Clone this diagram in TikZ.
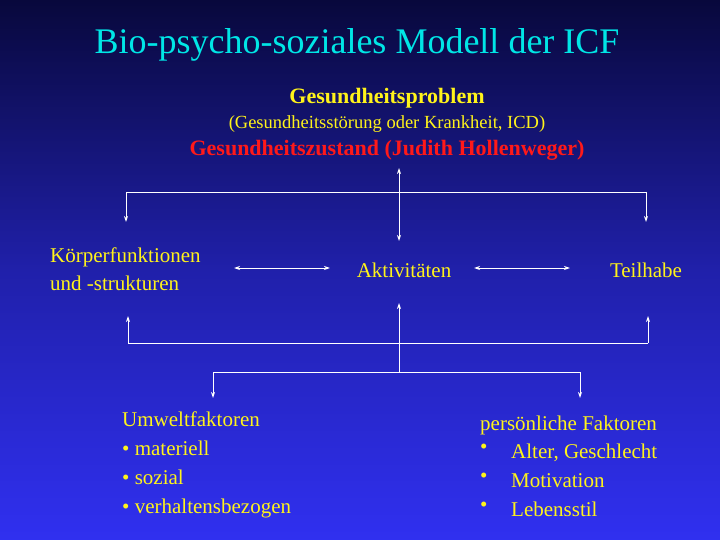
\documentclass[tikz,border=0pt]{standalone}
\usepackage{fontspec}
\setmainfont{Liberation Serif}
\newfontfamily\lserif{Liberation Serif}
\usetikzlibrary{arrows.meta}
\begin{document}
\begin{tikzpicture}[x=1pt,y=-1pt,
  txt/.style={text=yellow!90!white,font=\lserif\fontsize{21}{25}\selectfont,inner sep=0pt},
  ln/.style={draw=white,line width=0.9pt},
  ar/.style={ln,-{Stealth[length=6pt,width=4pt]}},
  dar/.style={ln,{Stealth[length=6pt,width=4pt]}-{Stealth[length=6pt,width=4pt]}}]
\shade[top color={rgb,255:red,8;green,8;blue,60}, bottom color={rgb,255:red,48;green,48;blue,240}, middle color={rgb,255:red,32;green,32;blue,170}] (0,0) rectangle (720,540);
\useasboundingbox (0,0) rectangle (720,540);
\node[text={rgb,255:red,0;green,230;blue,230},font=\lserif\fontsize{36}{40}\selectfont,inner sep=0pt] (title) at (357,45) {Bio-psycho-soziales Modell der ICF};
\node[txt,font=\lserif\bfseries\fontsize{22}{25}\selectfont] (gp) at (387,98) {Gesundheitsproblem};
\node[txt,font=\lserif\fontsize{18.5}{22}\selectfont] (gp2) at (387,124) {(Gesundheitsstörung oder Krankheit, ICD)};
\node[text=red!90!white,font=\lserif\bfseries\fontsize{22}{25}\selectfont,inner sep=0pt] (gz) at (387,150) {Gesundheitszustand (Judith Hollenweger)};
\node[txt,align=left,anchor=west] (kf) at (50,269) {Körperfunktionen\\[3pt]und -strukturen};
\node[txt] (ak) at (404,270) {Aktivitäten};
\node[txt] (th) at (646,270) {Teilhabe};
\node[txt,align=left,anchor=north west] (uw) at (122,412) {Umweltfaktoren\\[4pt]• materiell\\[4pt]• sozial\\[4pt]• verhaltensbezogen};
\node[txt,anchor=north west] (pf) at (480,416) {persönliche Faktoren};
\node[txt,anchor=north west,align=left] (pb) at (480,444) {•\\[4pt]•\\[4pt]•};
\node[txt,anchor=north west,align=left] (pt) at (511,444) {Alter, Geschlecht\\[4pt]Motivation\\[4pt]Lebensstil};
\coordinate (tl) at (126,192); \coordinate (tr) at (646,192);
\coordinate (bl) at (128,343); \coordinate (br) at (648,343);
\coordinate (top) at (399,168); \coordinate (mid) at (399,241);
\coordinate (up) at (399,303); \coordinate (ll) at (213,372); \coordinate (lr) at (580,372);
\draw[ln] (tl) -- (tr);
\draw[ar] (tl) -- (126,222);
\draw[ar] (tr) -- (646,222);
\draw[dar] (top) -- (mid);
\draw[dar] (234,268) -- (330,268);
\draw[dar] (474,268) -- (570,268);
\draw[ln] (bl) -- (br);
\draw[ar] (bl) -- (128,316);
\draw[ar] (br) -- (648,316);
\draw[ar] (399,372) -- (up);
\draw[ln] (ll) -- (lr);
\draw[ar] (ll) -- (213,398);
\draw[ar] (lr) -- (580,398);
\end{tikzpicture}
\end{document}
